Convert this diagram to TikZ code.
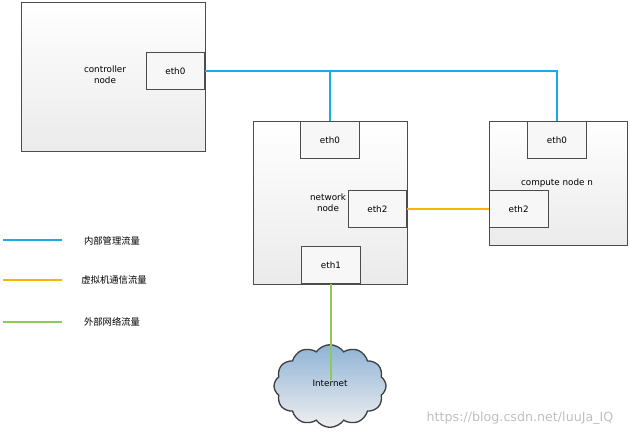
\documentclass[tikz,border=0pt]{standalone}
\usepackage{fontspec}
\setmainfont{DejaVu Sans}
\newfontfamily\cjk{Noto Sans CJK SC}
\usetikzlibrary{shapes.symbols,positioning}
\definecolor{mgmt}{HTML}{1AABE3}
\definecolor{vmnet}{HTML}{F7B500}
\definecolor{extnet}{HTML}{8CCB55}
\definecolor{sky}{HTML}{8FB3D6}
\tikzset{
    host/.style={draw=black!70, top color=white, bottom color=black!8, inner sep=0pt},
    port/.style={draw=black!70, fill=black!3, minimum width=44pt, minimum height=28pt, inner sep=0pt},
    lbl/.style={font=\fontsize{6.6}{8.5}\selectfont, align=center},
    link/.style={line width=1.3pt},
}
\begin{document}
\begin{tikzpicture}[x=0.75pt,y=-0.75pt]
    \useasboundingbox (0,0) rectangle (630,435);
    % hosts
    \node[host, minimum width=138pt, minimum height=112pt] (ctrl) at (113,76.5) {};
    \node[host, minimum width=115.5pt, minimum height=122pt] (net) at (330,202.5) {};
    \node[host, minimum width=103.5pt, minimum height=93pt] (comp) at (558,183) {};

    % ports
    \node[port, lbl, anchor=north east] (ctrl0) at (205,52) {eth0};
    \node[port, lbl, anchor=north] (net0) at (330,121) {eth0};
    \node[port, lbl, anchor=north east] (net2) at (407,190) {eth2};
    \node[port, lbl, anchor=south] (net1) at (331,284) {eth1};
    \node[port, lbl, anchor=north] (comp0) at (557,121) {eth0};
    \node[port, lbl, anchor=north west] (comp2) at (489,190) {eth2};

    % host labels
    \node[lbl] (ctrllbl) at (105,75) {controller\\node};
    \node[lbl] (netlbl) at (328,203) {network\\node};
    \node[lbl] (complbl) at (557,183) {compute node n};

    % cloud
    \node[cloud, cloud puffs=12, cloud puff arc=110, aspect=1.6, draw=black!75, line width=1pt,
          top color=sky, bottom color=black!6,
          minimum width=84pt, minimum height=62pt] (inet) at (330,386) {};
    \coordinate (inetc) at (331,380);

    % links
    \draw[link, mgmt] (ctrl0.east) -| (comp0.north);
    \draw[link, mgmt] (ctrl0.east -| net0.north) -- (net0.north);
    \draw[link, vmnet] (net2.east) -- (comp2.west);
    \draw[link, extnet] (net1.south) -- (inetc);
    \node[lbl] (inetlbl) at (330,383) {Internet};

    % legend
    \coordinate (l1a) at (3,240); \coordinate (l1b) at (62,240);
    \coordinate (l2a) at (3,280); \coordinate (l2b) at (62,280);
    \coordinate (l3a) at (3,322); \coordinate (l3b) at (62,322);
    \draw[link, mgmt] (l1a) -- (l1b);
    \draw[link, vmnet] (l2a) -- (l2b);
    \draw[link, extnet] (l3a) -- (l3b);
    \node[lbl, font=\cjk\fontsize{7}{8}\selectfont] (leg1) at (112,241) {内部管理流量};
    \node[lbl, font=\cjk\fontsize{7}{8}\selectfont] (leg2) at (114,280) {虚拟机通信流量};
    \node[lbl, font=\cjk\fontsize{7}{8}\selectfont] (leg3) at (112,322) {外部网络流量};

    \node[text=black!25, font=\fontsize{9.5}{10}\selectfont] (mark) at (520,418) {https://blog.csdn.net/luuJa\_IQ};
\end{tikzpicture}
\end{document}
